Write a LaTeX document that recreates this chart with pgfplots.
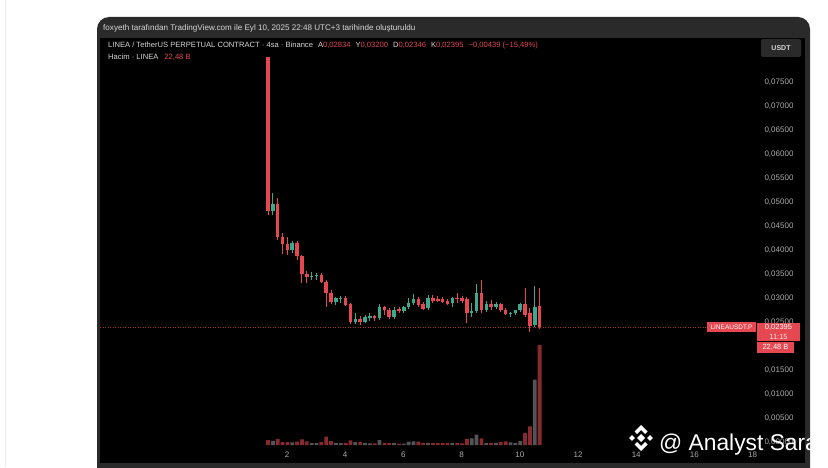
\documentclass[border=0pt]{standalone}
\usepackage{pgfplots}
\pgfplotsset{compat=1.18}
\usepackage{pgfplotstable}
\usepackage{fontspec}
\setmainfont{Liberation Sans}
\definecolor{tvred}{RGB}{229,72,80}
\definecolor{tvgreen}{RGB}{62,168,140}
\definecolor{volred}{RGB}{135,42,48}
\definecolor{volgray}{RGB}{82,84,88}
\definecolor{framec}{RGB}{42,42,42}
\definecolor{ticktext}{RGB}{170,170,170}
\definecolor{hdrtext}{RGB}{215,215,215}
\definecolor{valred}{RGB}{225,70,80}
\definecolor{lineared}{RGB}{160,50,58}

% down (red) candles: index, open, high, low, close, volume (B)
\pgfplotstableread{
i o h l c v
0 0.0803 0.0803 0.0472 0.0481 1.10
2 0.0496 0.0508 0.0421 0.0428 1.33
3 0.0428 0.0436 0.0392 0.0413 0.66
4 0.0413 0.0428 0.0390 0.0400 0.66
6 0.0415 0.0418 0.0379 0.0388 0.74
7 0.0388 0.0390 0.0331 0.0350 1.25
8 0.0350 0.0357 0.0331 0.0344 0.80
11 0.0347 0.0352 0.0331 0.0333 0.66
12 0.0333 0.0337 0.0282 0.0311 1.90
13 0.0311 0.0316 0.0287 0.0292 0.88
16 0.0301 0.0304 0.0283 0.0285 0.50
17 0.0287 0.0290 0.0245 0.0249 1.03
19 0.0256 0.0263 0.0244 0.0249 0.66
22 0.0263 0.0265 0.0253 0.0258 0.37
24 0.0281 0.0283 0.0265 0.0276 0.50
25 0.0276 0.0279 0.0257 0.0261 0.50
27 0.0277 0.0281 0.0268 0.0272 0.30
31 0.0297 0.0303 0.0281 0.0285 0.74
32 0.0287 0.0292 0.0276 0.0278 0.50
34 0.0299 0.0306 0.0290 0.0294 0.44
35 0.0297 0.0304 0.0292 0.0294 0.44
36 0.0297 0.0303 0.0289 0.0292 0.44
37 0.0294 0.0297 0.0285 0.0288 0.44
39 0.0300 0.0310 0.0289 0.0298 0.44
40 0.0299 0.0304 0.0290 0.0294 0.37
41 0.0297 0.0303 0.0247 0.0268 1.40
44 0.0311 0.0337 0.0268 0.0275 1.47
46 0.0288 0.0296 0.0276 0.0282 0.50
48 0.0287 0.0290 0.0271 0.0275 0.66
49 0.0276 0.0279 0.0265 0.0267 0.80
53 0.0288 0.0320 0.0261 0.0265 2.73
54 0.0268 0.0279 0.0230 0.0242 4.20
56 0.02834 0.03200 0.02346 0.02395 22.48
}\downtbl

% up (green) candles
\pgfplotstableread{
i o h l c v
1 0.0481 0.0518 0.0472 0.0496 0.96
5 0.0400 0.0418 0.0394 0.0414 0.60
9 0.0344 0.0355 0.0338 0.0346 0.44
10 0.0345 0.0353 0.0337 0.0347 0.44
14 0.0292 0.0303 0.0286 0.0299 0.50
15 0.0299 0.0305 0.0290 0.0301 0.44
18 0.0249 0.0268 0.0245 0.0256 0.66
20 0.0249 0.0265 0.0247 0.0260 0.50
21 0.0259 0.0268 0.0252 0.0263 0.37
23 0.0259 0.0288 0.0255 0.0281 1.10
26 0.0261 0.0281 0.0257 0.0276 0.44
28 0.0272 0.0284 0.0268 0.0281 0.30
29 0.0281 0.0299 0.0278 0.0290 0.74
30 0.0290 0.0308 0.0285 0.0297 0.80
33 0.0279 0.0306 0.0276 0.0299 0.50
38 0.0289 0.0303 0.0281 0.0301 0.44
42 0.0268 0.0290 0.0261 0.0272 1.47
43 0.0272 0.0329 0.0268 0.0311 2.36
45 0.0275 0.0294 0.0271 0.0288 0.50
47 0.0282 0.0292 0.0277 0.0288 0.50
50 0.0267 0.0270 0.0260 0.0268 0.60
51 0.0268 0.0276 0.0265 0.0275 0.50
52 0.0275 0.0290 0.0271 0.0288 0.88
55 0.0244 0.0324 0.0240 0.0282 14.70
}\uptbl

\begin{document}
\begin{tikzpicture}
\begin{scope}[x=1pt,y=1pt]
\useasboundingbox (0,0) rectangle (828,467);
\fill[white] (0,0) rectangle (828,467);
\draw[black!8, line width=0.8pt] (5,0) -- (5,467);
\fill[framec, rounded corners=12pt] (97,-30) rectangle (810,450);
\fill[black] (100,4) rectangle (805,429);
\node[anchor=west, inner sep=0, text=hdrtext, font=\fontsize{8.1}{9}\selectfont] at (103,439)
  {foxyeth tarafından TradingView.com ile Eyl 10, 2025 22:48 UTC+3 tarihinde oluşturuldu};
\end{scope}

% volume pane (same frame, own scale)
\begin{axis}[at={(100pt,21pt)}, anchor=south west, scale only axis,
  width=657pt, height=406pt,
  xmin=-4.426, xmax=18.151, ymin=-0.22, ymax=91.05, hide axis]
\addplot[ybar, bar width=3.8pt, bar shift=0pt, fill=volred, draw=none]
  table[x expr=1.347+\thisrow{i}/6, y=v] {\downtbl};
\addplot[ybar, bar width=3.8pt, bar shift=0pt, fill=volgray, draw=none]
  table[x expr=1.347+\thisrow{i}/6, y=v] {\uptbl};
\end{axis}

% price pane
\begin{axis}[at={(100pt,21pt)}, anchor=south west, scale only axis,
  width=657pt, height=406pt,
  xmin=-4.426, xmax=18.151, ymin=-0.000833, ymax=0.08375,
  axis line style={draw=none}, major tick length=0pt,
  xtick={2,4,6,8,10,12,14,16,18},
  ytick={0,0.005,0.01,0.015,0.025,0.03,0.035,0.04,0.045,0.05,0.055,0.06,0.065,0.07,0.075},
  yticklabel pos=right, scaled y ticks=false,
  /pgf/number format/assume math mode=true,
  yticklabel style={/pgf/number format/.cd, fixed, fixed zerofill, precision=5, use comma, /tikz/.cd,
    anchor=center, xshift=22pt, text=ticktext, font=\fontsize{8}{9}\selectfont},
  xticklabel style={anchor=center, yshift=-9pt, text=ticktext, font=\fontsize{8}{9}\selectfont},
  ]
\addplot[lineared, line width=0.6pt, dash pattern=on 1pt off 1.5pt]
  coordinates {(-4.5,0.02395) (18.2,0.02395)};
% wicks
\addplot[tvred, line width=0.9pt, quiver={u=0, v={\thisrow{h}-\thisrow{l}}}]
  table[x expr=1.347+\thisrow{i}/6, y=l] {\downtbl};
\addplot[tvgreen, line width=0.9pt, quiver={u=0, v={\thisrow{h}-\thisrow{l}}}]
  table[x expr=1.347+\thisrow{i}/6, y=l] {\uptbl};
% bodies
\addplot[tvred, line width=3.5pt, quiver={u=0, v={\thisrow{c}-\thisrow{o}}}]
  table[x expr=1.347+\thisrow{i}/6, y=o] {\downtbl};
\addplot[tvgreen, line width=3.5pt, quiver={u=0, v={\thisrow{c}-\thisrow{o}}}]
  table[x expr=1.347+\thisrow{i}/6, y=o] {\uptbl};
\end{axis}

\begin{scope}[x=1pt,y=1pt]
% legend / header lines
\node[anchor=west, inner sep=0, text=hdrtext, font=\fontsize{7.6}{9}\selectfont] at (108,421)
  {LINEA / TetherUS PERPETUAL CONTRACT · 4sa · Binance\hspace{5pt}A\textcolor{valred}{0,02834}\hspace{5pt}Y\textcolor{valred}{0,03200}\hspace{5pt}D\textcolor{valred}{0,02346}\hspace{5pt}K\textcolor{valred}{0,02395}\hspace{5pt}\textcolor{valred}{−0,00439 (−15,49\%)}};
\node[anchor=west, inner sep=0, text=hdrtext, font=\fontsize{7.6}{9}\selectfont] at (108,410)
  {Hacim · LINEA\hspace{6pt}\textcolor{valred}{22,48 B}};

% USDT box
\fill[framec, rounded corners=2pt] (761,410) rectangle (801,428);
\node[text=hdrtext, font=\bfseries\fontsize{7}{8}\selectfont] at (781,419) {USDT};

% price labels
\fill[tvred] (707,135) rectangle (756,145);
\node[white, font=\fontsize{6.5}{7}\selectfont] at (731.5,140) {LINEAUSDT.P};
\fill[tvred] (757,126) rectangle (800,144);
\node[white, font=\fontsize{7.5}{8}\selectfont] at (778.5,139.5) {0,02395};
\node[white!85!tvred, font=\fontsize{7.5}{8}\selectfont] at (778.5,130.5) {11:15};
\fill[tvred] (757,114) rectangle (794,125);
\node[white, font=\fontsize{7.5}{8}\selectfont] at (775.5,119.5) {22,48 B};

% watermark
\begin{scope}[white]
\fill (641,33) -- (645,29) -- (641,25) -- (637,29) -- cycle;
\fill (632,31.8) -- (634.8,29) -- (632,26.2) -- (629.2,29) -- cycle;
\fill (650,31.8) -- (652.8,29) -- (650,26.2) -- (647.2,29) -- cycle;
\fill (634.5,35.5) -- (641,42) -- (647.5,35.5) -- (645,33) -- (641,37) -- (637,33) -- cycle;
\fill (634.5,22.5) -- (641,16) -- (647.5,22.5) -- (645,25) -- (641,21) -- (637,25) -- cycle;
\end{scope}
\node[anchor=base west, inner sep=0, text=white, font=\fontsize{22.8}{24}\selectfont] at (659,17) {@ Analyst Sara};
\end{scope}
\end{tikzpicture}
\end{document}
